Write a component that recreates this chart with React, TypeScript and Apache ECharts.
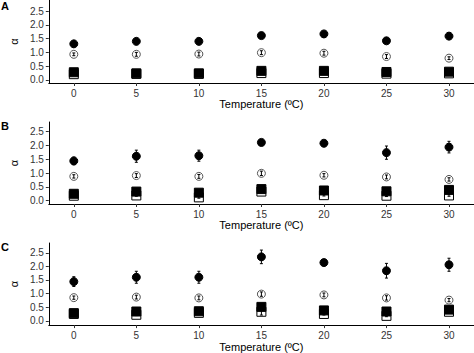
import React, { useEffect, useRef } from "react";
import * as echarts from "echarts";

const temps = [0, 5, 10, 15, 20, 25, 30];
const yTicks = [0, 0.5, 1, 1.5, 2, 2.5];
const panelLabels = ["A", "B", "C"];

// Panel A
const aFilledCircle = [1.31, 1.4, 1.4, 1.61, 1.67, 1.42, 1.59];
const aFilledCircleErr = [0.03, 0.03, 0.03, 0.03, 0.03, 0.03, 0.03];
const aOpenCircle = [0.93, 0.93, 0.94, 0.99, 0.97, 0.85, 0.79];
const aOpenCircleErr = [0.05, 0.07, 0.07, 0.07, 0.07, 0.07, 0.05];
const aFilledSquare = [0.28, 0.24, 0.24, 0.33, 0.33, 0.29, 0.3];
const aFilledSquareErr = [0.03, 0.03, 0.03, 0.03, 0.03, 0.03, 0.03];
const aOpenSquare = [0.21, 0.22, 0.22, 0.25, 0.25, 0.23, 0.24];
const aOpenSquareErr = [0.02, 0.02, 0.02, 0.02, 0.02, 0.02, 0.02];

// Panel B
const bFilledCircle = [1.44, 1.61, 1.63, 2.11, 2.08, 1.74, 1.94];
const bFilledCircleErr = [0.14, 0.22, 0.2, 0.1, 0.05, 0.24, 0.21];
const bOpenCircle = [0.88, 0.91, 0.88, 0.99, 0.92, 0.86, 0.77];
const bOpenCircleErr = [0.06, 0.07, 0.07, 0.08, 0.06, 0.07, 0.06];
const bFilledSquare = [0.25, 0.33, 0.29, 0.42, 0.37, 0.34, 0.39];
const bFilledSquareErr = [0.06, 0.06, 0.1, 0.06, 0.1, 0.08, 0.1];
const bOpenSquare = [0.18, 0.19, 0.12, 0.33, 0.2, 0.18, 0.19];
const bOpenSquareErr = [0.03, 0.03, 0.03, 0.03, 0.03, 0.03, 0.03];

// Panel C
const cFilledCircle = [1.44, 1.6, 1.6, 2.35, 2.14, 1.84, 2.06];
const cFilledCircleErr = [0.18, 0.22, 0.22, 0.25, 0.05, 0.27, 0.24];
const cOpenCircle = [0.85, 0.87, 0.84, 0.98, 0.95, 0.84, 0.76];
const cOpenCircleErr = [0.06, 0.07, 0.07, 0.08, 0.07, 0.08, 0.06];
const cFilledSquare = [0.28, 0.34, 0.35, 0.51, 0.38, 0.34, 0.41];
const cFilledSquareErr = [0.04, 0.05, 0.05, 0.08, 0.05, 0.05, 0.06];
const cOpenSquare = [0.25, 0.22, 0.29, 0.33, 0.25, 0.18, 0.33];
const cOpenSquareErr = [0.03, 0.03, 0.03, 0.12, 0.04, 0.03, 0.03];

const panels = [
  { fc: aFilledCircle, fce: aFilledCircleErr, oc: aOpenCircle, oce: aOpenCircleErr, fs: aFilledSquare, fse: aFilledSquareErr, os: aOpenSquare, ose: aOpenSquareErr },
  { fc: bFilledCircle, fce: bFilledCircleErr, oc: bOpenCircle, oce: bOpenCircleErr, fs: bFilledSquare, fse: bFilledSquareErr, os: bOpenSquare, ose: bOpenSquareErr },
  { fc: cFilledCircle, fce: cFilledCircleErr, oc: cOpenCircle, oce: cOpenCircleErr, fs: cFilledSquare, fse: cFilledSquareErr, os: cOpenSquare, ose: cOpenSquareErr },
];

const gridLayout = [
  { top: 0, height: 83, min: -0.11, max: 2.9, labelY: 5 },
  { top: 122, height: 82, min: -0.12, max: 2.85, labelY: 125 },
  { top: 243, height: 83, min: -0.16, max: 2.86, labelY: 246 },
];

const FONT = "Liberation Sans, Arial, Helvetica, sans-serif";

function errSeries(idx: number, ys: number[], errs: number[]) {
  return {
    type: "custom",
    xAxisIndex: idx,
    yAxisIndex: idx,
    z: 10,
    silent: true,
    encode: { x: 0, y: [1, 2] },
    data: temps.map((t, i) => [t, ys[i] - errs[i], ys[i] + errs[i]]),
    renderItem: (params: any, api: any) => {
      const x = api.value(0);
      const lo = api.coord([x, api.value(1)]);
      const hi = api.coord([x, api.value(2)]);
      const w = 1.5;
      const style = { stroke: "#000", lineWidth: 1 };
      return {
        type: "group",
        children: [
          { type: "line", shape: { x1: lo[0], y1: lo[1], x2: hi[0], y2: hi[1] }, style },
          { type: "line", shape: { x1: lo[0] - w, y1: lo[1], x2: lo[0] + w, y2: lo[1] }, style },
          { type: "line", shape: { x1: hi[0] - w, y1: hi[1], x2: hi[0] + w, y2: hi[1] }, style },
        ],
      };
    },
  };
}

function scatter(idx: number, ys: number[], symbol: string, size: number, fill: string, stroke: string, z: number) {
  return {
    type: "scatter",
    xAxisIndex: idx,
    yAxisIndex: idx,
    symbol,
    symbolSize: size,
    z,
    data: temps.map((t, i) => [t, ys[i]]),
    itemStyle: { color: fill, borderColor: stroke, borderWidth: 1, opacity: 1 },
  };
}

export default function App() {
  const ref = useRef<HTMLDivElement>(null);
  useEffect(() => {
    if (!ref.current) return;
    const chart = echarts.init(ref.current, undefined, { renderer: "svg" });
    const grids = gridLayout.map((g) => ({ left: 33, right: 0, top: g.top, height: g.height }));
    const xAxes = gridLayout.map((g, i) => ({
      type: "value",
      gridIndex: i,
      min: -2,
      max: 32,
      name: "Temperature (ºC)",
      nameLocation: "middle",
      nameGap: 15,
      nameTextStyle: { fontFamily: FONT, fontSize: 11, color: "#000" },
      splitLine: { show: false },
      axisLine: { show: true, onZero: false, lineStyle: { color: "#000", width: 1 } },
      axisTick: { show: true, length: 3, customValues: temps, lineStyle: { color: "#333" } },
      axisLabel: { customValues: temps, margin: 5, fontFamily: FONT, fontSize: 10, color: "#333" },
    }));
    const yAxes = gridLayout.map((g, i) => ({
      type: "value",
      gridIndex: i,
      min: g.min,
      max: g.max,
      name: "α",
      nameLocation: "middle",
      nameRotate: 90,
      nameGap: 19,
      nameTextStyle: { fontFamily: FONT, fontSize: 11, color: "#000" },
      splitLine: { show: false },
      axisLine: { show: true, onZero: false, lineStyle: { color: "#000", width: 1 } },
      axisTick: { show: true, length: 3, customValues: yTicks, lineStyle: { color: "#333" } },
      axisLabel: {
        customValues: yTicks,
        margin: 5,
        fontFamily: FONT,
        fontSize: 10,
        color: "#333",
        formatter: (v: number) => v.toFixed(1),
      },
    }));
    const series: any[] = [];
    panels.forEach((p, i) => {
      series.push(scatter(i, p.os, "rect", 9, "#fff", "#000", 2));
      series.push(scatter(i, p.fs, "rect", 9, "#000", "#000", 3));
      series.push(scatter(i, p.oc, "circle", 8, "#fff", "#555", 4));
      series.push(scatter(i, p.fc, "circle", 8, "#000", "#000", 5));
      series.push(errSeries(i, p.os, p.ose));
      series.push(errSeries(i, p.fs, p.fse));
      series.push(errSeries(i, p.oc, p.oce));
      series.push(errSeries(i, p.fc, p.fce));
    });
    chart.setOption({
      animation: false,
      backgroundColor: "#fff",
      grid: grids,
      xAxis: xAxes,
      yAxis: yAxes,
      series,
      graphic: gridLayout.map((g, i) => ({
        type: "text",
        left: 1,
        top: g.labelY - 5,
        style: { text: panelLabels[i], font: `bold 11px ${FONT}`, fill: "#000" },
      })),
    });
    return () => chart.dispose();
  }, []);
  return <div ref={ref} style={{ width: 474, height: 353, position: "absolute", left: 0, top: 0 }} />;
}
